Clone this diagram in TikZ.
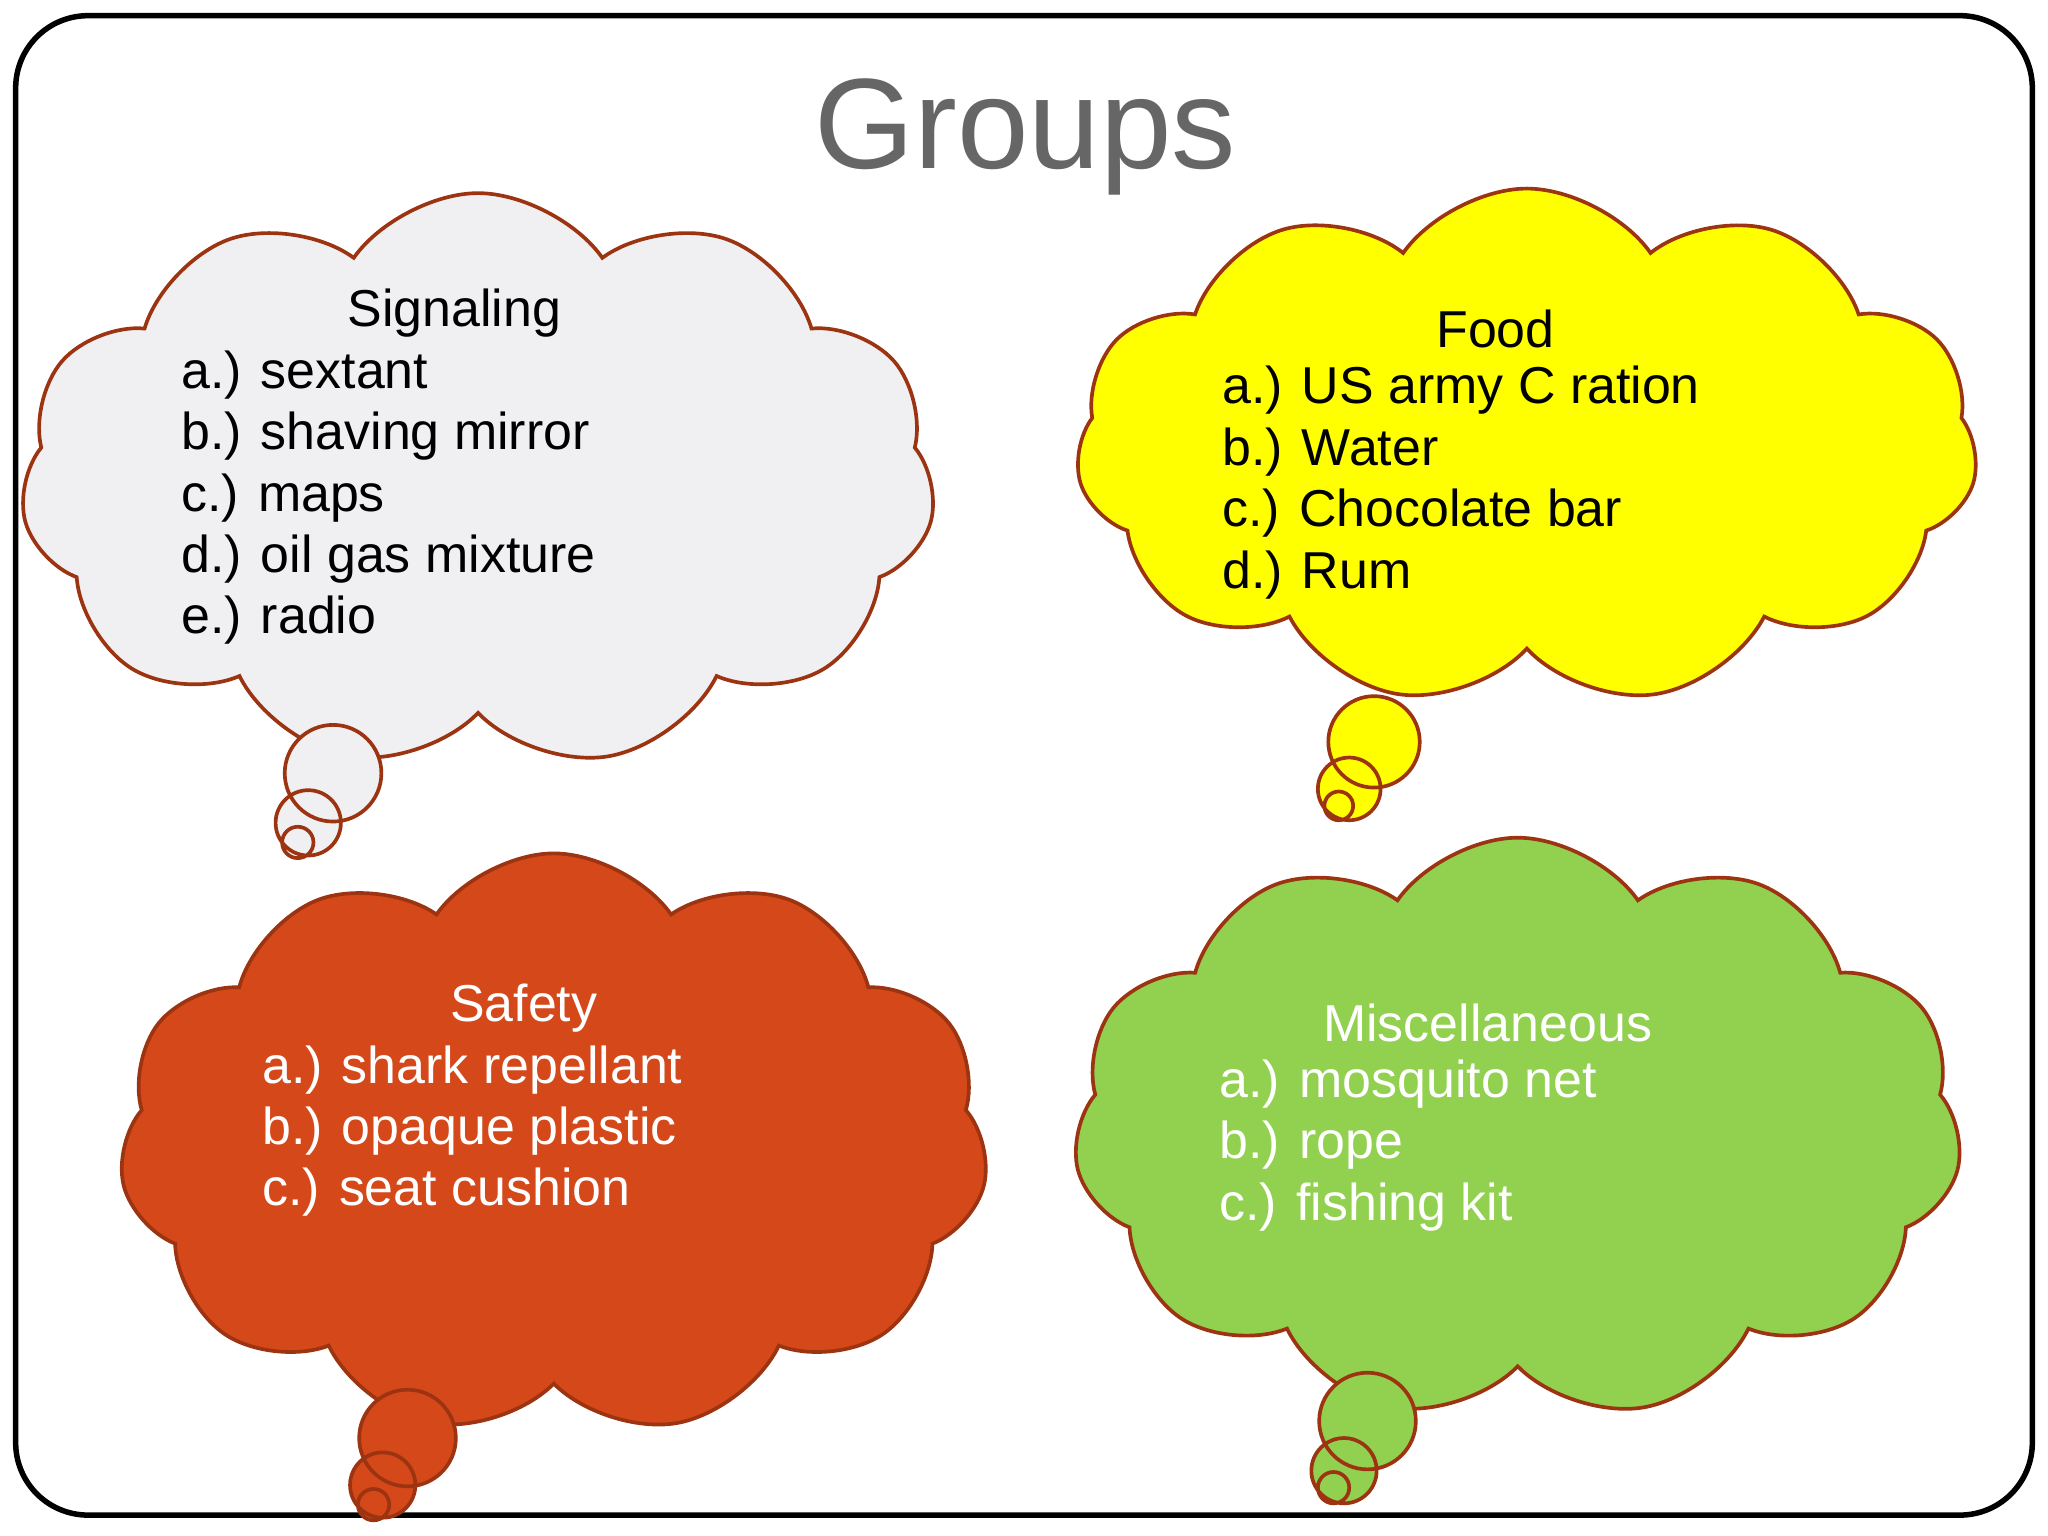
\documentclass[tikz,border=0pt]{standalone}
\usepackage{fontspec}
\setmainfont{Liberation Sans}
\usetikzlibrary{shapes.symbols}
\definecolor{edgec}{HTML}{9C3412}
\definecolor{cgrey}{HTML}{F0F0F2}
\definecolor{cyel}{HTML}{FFFF00}
\definecolor{cred}{HTML}{D4481A}
\definecolor{cgreen}{HTML}{92D050}
\tikzset{
 bubble/.style={cloud, cloud puffs=11, cloud puff arc=110, draw=edgec, line width=0.8pt, inner sep=0pt},
 tailc/.style={draw=edgec, line width=0.8pt},
 item/.style={anchor=west, inner sep=0pt, font=\fontsize{11.3}{13}\selectfont},
 head/.style={anchor=center, inner sep=0pt, font=\fontsize{11.3}{13}\selectfont},
}
\begin{document}
\begin{tikzpicture}[x=0.01cm,y=-0.01cm]
\useasboundingbox (0,0) rectangle (1568,1176);
\draw[line width=1.2pt, rounded corners=45pt*0.35] (12,12) rectangle (1556,1160);
\node[text=black!60, font=\fontsize{28}{32}\selectfont] (title) at (785,105) {Groups};
% Signaling
\node[bubble, fill=cgrey, minimum width=7.0cm, minimum height=4.4cm] (c1) at (366,368) {};
\fill[cgrey,tailc] (255,592) circle (37) (236,630) circle (25) (228,645) circle (12);
\node[head] (h1) at (348,240) {Signaling};
\node[item] (s1) at (138,287) {a.) sextant};
\node[item] (s2) at (138,334) {b.) shaving mirror};
\node[item] (s3) at (138,381) {c.) maps};
\node[item] (s4) at (138,428) {d.) oil gas mixture};
\node[item] (s5) at (138,475) {e.) radio};
% Food
\node[bubble, fill=cyel, minimum width=6.9cm, minimum height=3.95cm] (c2) at (1169,342) {};
\fill[cyel,tailc] (1052,568) circle (35) (1033,604) circle (24) (1025,617) circle (11);
\node[head] (h2) at (1145,252) {Food};
\node[item] (f1) at (935,299) {a.) US army C ration};
\node[item] (f2) at (935,346) {b.) Water};
\node[item] (f3) at (935,393) {c.) Chocolate bar};
\node[item] (f4) at (935,440) {d.) Rum};
% Safety
\node[bubble, fill=cred, minimum width=6.65cm, minimum height=4.45cm] (c3) at (424,876) {};
\fill[cred,tailc] (312,1101) circle (37) (293,1137) circle (25) (286,1152) circle (12);
\node[head,text=white] (h3) at (401,772) {Safety};
\node[item,text=white] (a1) at (200,819) {a.) shark repellant};
\node[item,text=white] (a2) at (200,866) {b.) opaque plastic};
\node[item,text=white] (a3) at (200,913) {c.) seat cushion};
% Misc
\node[bubble, fill=cgreen, minimum width=6.8cm, minimum height=4.45cm] (c4) at (1162,864) {};
\fill[cgreen,tailc] (1047,1088) circle (37) (1029,1126) circle (25) (1021,1139) circle (12);
\node[head,text=white] (h4) at (1139,783) {Miscellaneous};
\node[item,text=white] (m1) at (933,830) {a.) mosquito net};
\node[item,text=white] (m2) at (933,877) {b.) rope};
\node[item,text=white] (m3) at (933,924) {c.) fishing kit};
\end{tikzpicture}
\end{document}
